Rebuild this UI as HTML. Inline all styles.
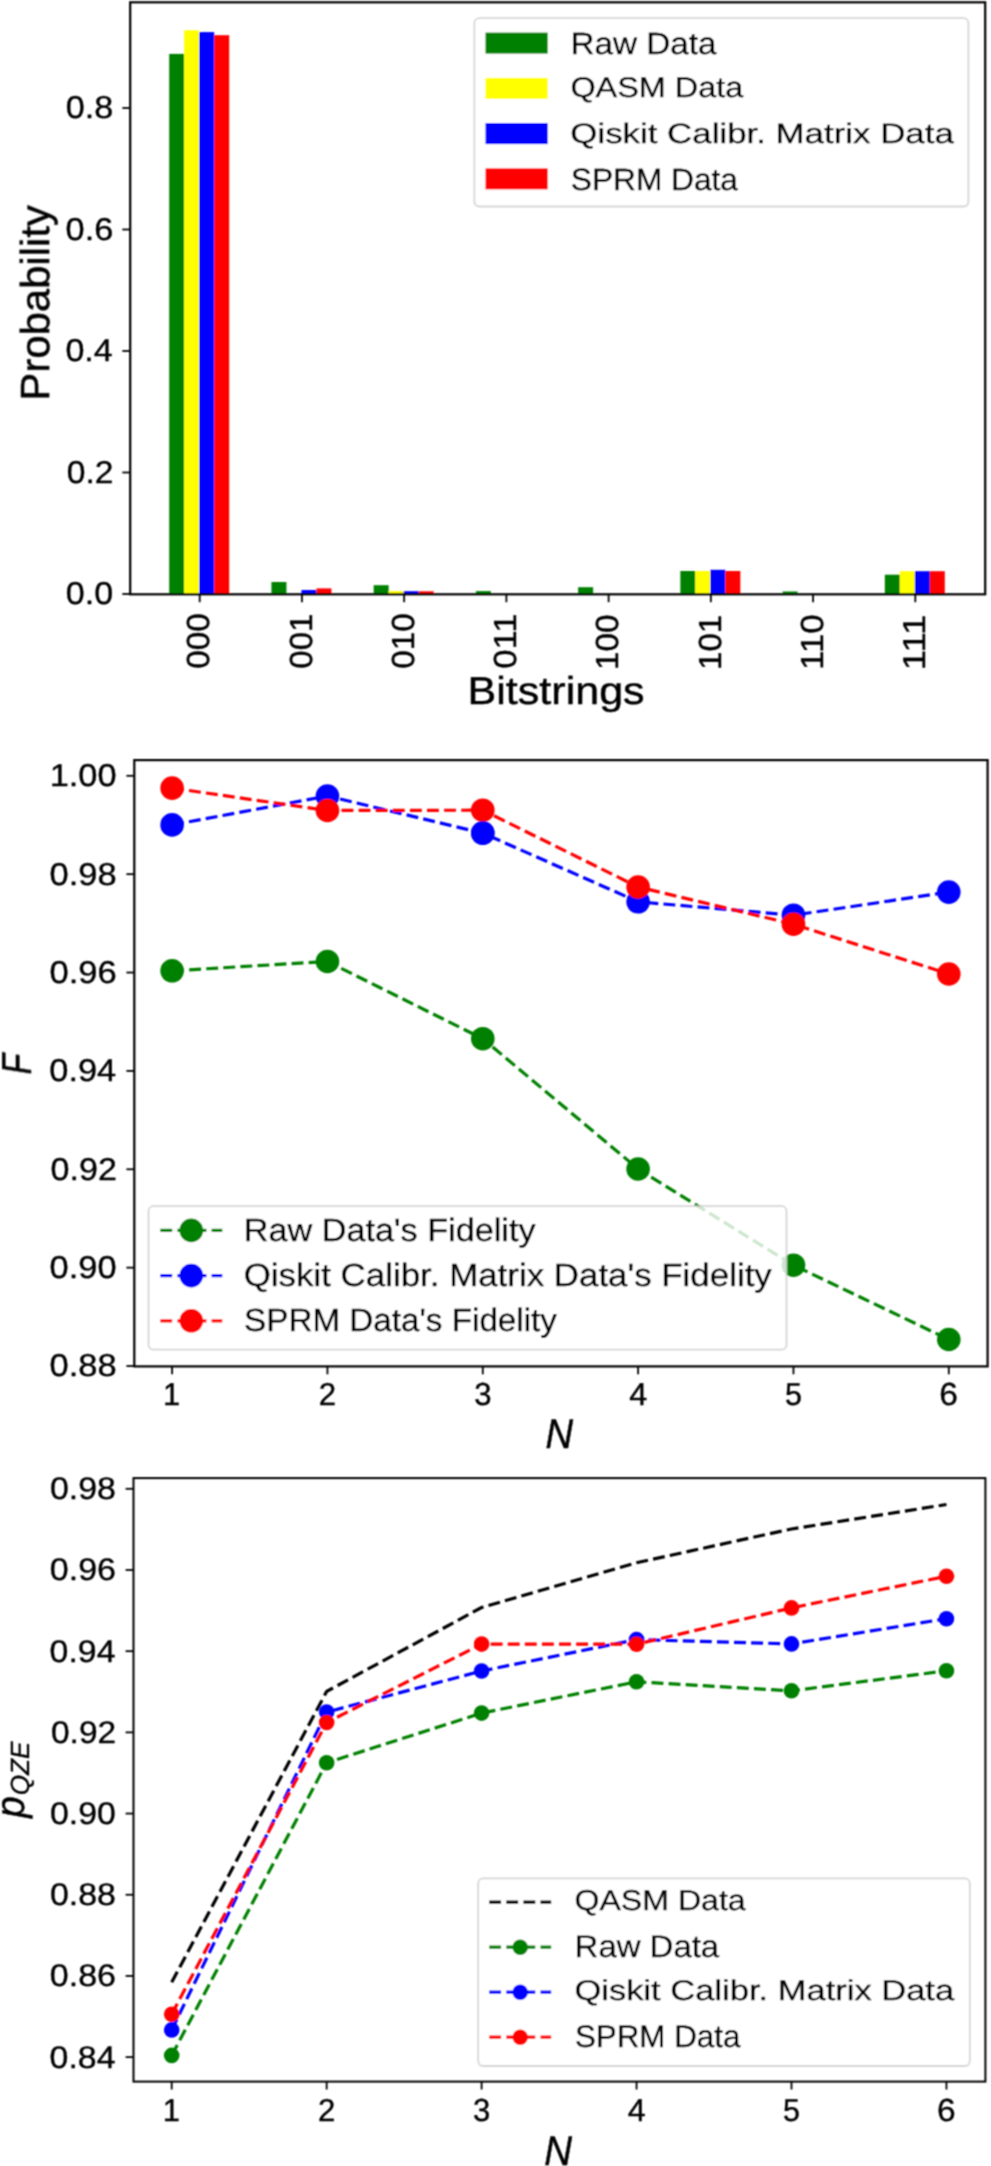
<!DOCTYPE html>
<html><head><meta charset="utf-8"><title>Charts</title>
<style>html,body{margin:0;padding:0;background:#fff;}svg{display:block;}text{font-family:"Liberation Sans",sans-serif;text-rendering:geometricPrecision;stroke:#000;stroke-width:0.35px;}</style>
</head><body>
<svg width="991" height="2166" viewBox="0 0 991 2166">
<defs><filter id="soft" x="0" y="0" width="991" height="2166" filterUnits="userSpaceOnUse"><feConvolveMatrix order="3" kernelMatrix="1 2 1 2 4 2 1 2 1" divisor="16" edgeMode="duplicate"/></filter></defs>
<rect width="991" height="2166" fill="#fff"/>
<g filter="url(#soft)">
<rect x="169.2" y="53.9" width="15" height="540.1" fill="#008000"/>
<rect x="271.43" y="582" width="15" height="12" fill="#008000"/>
<rect x="373.66" y="585.2" width="15" height="8.8" fill="#008000"/>
<rect x="475.89" y="591.1" width="15" height="2.9" fill="#008000"/>
<rect x="578.12" y="587.2" width="15" height="6.8" fill="#008000"/>
<rect x="680.35" y="571" width="15" height="23" fill="#008000"/>
<rect x="782.58" y="591.5" width="15" height="2.5" fill="#008000"/>
<rect x="884.81" y="574.7" width="15" height="19.3" fill="#008000"/>
<rect x="184.2" y="30.3" width="15" height="563.7" fill="#ffff00"/>
<rect x="388.66" y="591.1" width="15" height="2.9" fill="#ffff00"/>
<rect x="695.35" y="571" width="15" height="23" fill="#ffff00"/>
<rect x="899.81" y="571.2" width="15" height="22.8" fill="#ffff00"/>
<rect x="199.2" y="32.1" width="15" height="561.9" fill="#0000ff"/>
<rect x="301.43" y="590" width="15" height="4" fill="#0000ff"/>
<rect x="403.66" y="591.2" width="15" height="2.8" fill="#0000ff"/>
<rect x="710.35" y="569.8" width="15" height="24.2" fill="#0000ff"/>
<rect x="914.81" y="571.2" width="15" height="22.8" fill="#0000ff"/>
<rect x="214.2" y="35.2" width="15" height="558.8" fill="#ff0000"/>
<rect x="316.43" y="588.4" width="15" height="5.6" fill="#ff0000"/>
<rect x="418.66" y="591.3" width="15" height="2.7" fill="#ff0000"/>
<rect x="725.35" y="571" width="15" height="23" fill="#ff0000"/>
<rect x="929.81" y="571.2" width="15" height="22.8" fill="#ff0000"/>
<rect x="130.2" y="2.3" width="855" height="592" fill="none" stroke="#000" stroke-width="2.2"/>
<line x1="122.3" y1="594" x2="130.2" y2="594" stroke="#000" stroke-width="1.8"/>
<text transform="matrix(1.0662 0 0 0.9838 65.7064 604.4092)" font-size="32" style="" fill="#000">0.0</text>
<line x1="122.3" y1="472.5" x2="130.2" y2="472.5" stroke="#000" stroke-width="1.8"/>
<text transform="matrix(1.0504 0 0 0.9838 66.7623 482.9092)" font-size="32" style="" fill="#000">0.2</text>
<line x1="122.3" y1="351" x2="130.2" y2="351" stroke="#000" stroke-width="1.8"/>
<text transform="matrix(1.0657 0 0 0.9838 65.3904 361.4092)" font-size="32" style="" fill="#000">0.4</text>
<line x1="122.3" y1="229.5" x2="130.2" y2="229.5" stroke="#000" stroke-width="1.8"/>
<text transform="matrix(1.0727 0 0 0.9838 65.5928 239.9092)" font-size="32" style="" fill="#000">0.6</text>
<line x1="122.3" y1="108" x2="130.2" y2="108" stroke="#000" stroke-width="1.8"/>
<text transform="matrix(1.0683 0 0 0.9838 65.7662 118.4092)" font-size="32" style="" fill="#000">0.8</text>
<line x1="199.7" y1="594.3" x2="199.7" y2="602.2" stroke="#000" stroke-width="1.8"/>
<text transform="matrix(0 -1.0402 0.9947 0 209.4104 668.7003)" font-size="32" style="" fill="#000">000</text>
<line x1="301.93" y1="594.3" x2="301.93" y2="602.2" stroke="#000" stroke-width="1.8"/>
<text transform="matrix(0 -1.0313 0.9947 0 311.6404 668.6891)" font-size="32" style="" fill="#000">001</text>
<line x1="404.16" y1="594.3" x2="404.16" y2="602.2" stroke="#000" stroke-width="1.8"/>
<text transform="matrix(0 -1.0402 0.9947 0 413.8704 668.7003)" font-size="32" style="" fill="#000">010</text>
<line x1="506.39" y1="594.3" x2="506.39" y2="602.2" stroke="#000" stroke-width="1.8"/>
<text transform="matrix(0 -1.0818 0.9947 0 516.1004 668.7522)" font-size="32" style="" fill="#000">011</text>
<line x1="608.62" y1="594.3" x2="608.62" y2="602.2" stroke="#000" stroke-width="1.8"/>
<text transform="matrix(0 -1.0388 0.9947 0 618.3304 669.9347)" font-size="32" style="" fill="#000">100</text>
<line x1="710.85" y1="594.3" x2="710.85" y2="602.2" stroke="#000" stroke-width="1.8"/>
<text transform="matrix(0 -1.0297 0.9947 0 720.5604 669.9124)" font-size="32" style="" fill="#000">101</text>
<line x1="813.08" y1="594.3" x2="813.08" y2="602.2" stroke="#000" stroke-width="1.8"/>
<text transform="matrix(0 -1.0906 0.9947 0 822.7904 670.061)" font-size="32" style="" fill="#000">110</text>
<line x1="915.31" y1="594.3" x2="915.31" y2="602.2" stroke="#000" stroke-width="1.8"/>
<text transform="matrix(0 -1.1385 0.9869 0 924.91 670.1779)" font-size="32" style="" fill="#000">111</text>
<text transform="matrix(0 -1.3079 1.2772 0 49.4191 400.5333)" font-size="32" style="" fill="#000">Probability</text>
<text transform="matrix(1.3457 0 0 1.2135 467.5675 704.0421)" font-size="32" style="" fill="#000">Bitstrings</text>
<rect x="474.4" y="18.1" width="494" height="188.4" rx="5" ry="5" fill="#fff" fill-opacity="0.8" stroke="#ccc" stroke-opacity="0.8" stroke-width="1.8"/>
<rect x="485.5" y="32.6" width="62.2" height="21" fill="#008000"/>
<text transform="matrix(1.0387 0 0 0.9596 570.5153 53.8076)" font-size="32" style="" fill="#000">Raw Data</text>
<rect x="485.5" y="77.85" width="62.2" height="21" fill="#ffff00"/>
<text transform="matrix(1.0127 0 0 0.8846 570.4047 97.319)" font-size="32" style="" fill="#000">QASM Data</text>
<rect x="485.5" y="123.1" width="62.2" height="21" fill="#0000ff"/>
<text transform="matrix(1.0892 0 0 0.8764 570.2888 142.6183)" font-size="32" style="" fill="#000">Qiskit Calibr. Matrix Data</text>
<rect x="485.5" y="168.35" width="62.2" height="21" fill="#ff0000"/>
<text transform="matrix(0.9892 0 0 0.9624 570.8048 189.5568)" font-size="32" style="" fill="#000">SPRM Data</text>
<polyline points="172.1,970.8 327.44,961.5 482.78,1038.7 638.12,1169 793.46,1265.2 948.8,1339.5" fill="none" stroke="#008000" stroke-width="3.2" stroke-dasharray="11.9 5.2" stroke-linejoin="round"/>
<circle cx="172.1" cy="970.8" r="11.8" fill="#008000"/>
<circle cx="327.44" cy="961.5" r="11.8" fill="#008000"/>
<circle cx="482.78" cy="1038.7" r="11.8" fill="#008000"/>
<circle cx="638.12" cy="1169" r="11.8" fill="#008000"/>
<circle cx="793.46" cy="1265.2" r="11.8" fill="#008000"/>
<circle cx="948.8" cy="1339.5" r="11.8" fill="#008000"/>
<polyline points="172.1,824.9 327.44,796 482.78,833.1 638.12,901.8 793.46,915.2 948.8,892.1" fill="none" stroke="#0000ff" stroke-width="3.2" stroke-dasharray="11.9 5.2" stroke-linejoin="round"/>
<circle cx="172.1" cy="824.9" r="11.8" fill="#0000ff"/>
<circle cx="327.44" cy="796" r="11.8" fill="#0000ff"/>
<circle cx="482.78" cy="833.1" r="11.8" fill="#0000ff"/>
<circle cx="638.12" cy="901.8" r="11.8" fill="#0000ff"/>
<circle cx="793.46" cy="915.2" r="11.8" fill="#0000ff"/>
<circle cx="948.8" cy="892.1" r="11.8" fill="#0000ff"/>
<polyline points="172.1,788.1 327.44,810.5 482.78,810.2 638.12,887 793.46,924.2 948.8,974" fill="none" stroke="#ff0000" stroke-width="3.2" stroke-dasharray="11.9 5.2" stroke-linejoin="round"/>
<circle cx="172.1" cy="788.1" r="11.8" fill="#ff0000"/>
<circle cx="327.44" cy="810.5" r="11.8" fill="#ff0000"/>
<circle cx="482.78" cy="810.2" r="11.8" fill="#ff0000"/>
<circle cx="638.12" cy="887" r="11.8" fill="#ff0000"/>
<circle cx="793.46" cy="924.2" r="11.8" fill="#ff0000"/>
<circle cx="948.8" cy="974" r="11.8" fill="#ff0000"/>
<circle cx="482.78" cy="833.1" r="11.8" fill="#0000ff"/>
<rect x="134.3" y="760.1" width="853.3" height="606.3" fill="none" stroke="#000" stroke-width="2.2"/>
<line x1="126.4" y1="1366.02" x2="134.3" y2="1366.02" stroke="#000" stroke-width="1.8"/>
<text transform="matrix(1.077 0 0 0.9838 49.623 1376.4292)" font-size="32" style="" fill="#000">0.88</text>
<line x1="126.4" y1="1267.65" x2="134.3" y2="1267.65" stroke="#000" stroke-width="1.8"/>
<text transform="matrix(1.0755 0 0 0.9838 49.5625 1278.0592)" font-size="32" style="" fill="#000">0.90</text>
<line x1="126.4" y1="1169.28" x2="134.3" y2="1169.28" stroke="#000" stroke-width="1.8"/>
<text transform="matrix(1.0645 0 0 0.9838 50.6124 1179.6892)" font-size="32" style="" fill="#000">0.92</text>
<line x1="126.4" y1="1070.91" x2="134.3" y2="1070.91" stroke="#000" stroke-width="1.8"/>
<text transform="matrix(1.0751 0 0 0.9838 49.2464 1081.3192)" font-size="32" style="" fill="#000">0.94</text>
<line x1="126.4" y1="972.54" x2="134.3" y2="972.54" stroke="#000" stroke-width="1.8"/>
<text transform="matrix(1.0801 0 0 0.9838 49.4513 982.9492)" font-size="32" style="" fill="#000">0.96</text>
<line x1="126.4" y1="874.17" x2="134.3" y2="874.17" stroke="#000" stroke-width="1.8"/>
<text transform="matrix(1.077 0 0 0.9838 49.623 884.5792)" font-size="32" style="" fill="#000">0.98</text>
<line x1="126.4" y1="775.8" x2="134.3" y2="775.8" stroke="#000" stroke-width="1.8"/>
<text transform="matrix(1.0743 0 0 0.9838 49.6334 786.2092)" font-size="32" style="" fill="#000">1.00</text>
<line x1="172.1" y1="1366.4" x2="172.1" y2="1374.3" stroke="#000" stroke-width="1.8"/>
<text transform="matrix(0.966 0 0 0.9862 163.0801 1404.5)" font-size="32" style="" fill="#000">1</text>
<line x1="327.44" y1="1366.4" x2="327.44" y2="1374.3" stroke="#000" stroke-width="1.8"/>
<text transform="matrix(0.9745 0 0 0.9891 318.7669 1404.5)" font-size="32" style="" fill="#000">2</text>
<line x1="482.78" y1="1366.4" x2="482.78" y2="1374.3" stroke="#000" stroke-width="1.8"/>
<text transform="matrix(0.9711 0 0 0.994 474.2297 1404.6103)" font-size="32" style="" fill="#000">3</text>
<line x1="638.12" y1="1366.4" x2="638.12" y2="1374.3" stroke="#000" stroke-width="1.8"/>
<text transform="matrix(1.0114 0 0 0.9862 629.2219 1404.5)" font-size="32" style="" fill="#000">4</text>
<line x1="793.46" y1="1366.4" x2="793.46" y2="1374.3" stroke="#000" stroke-width="1.8"/>
<text transform="matrix(0.9543 0 0 0.9912 784.9976 1404.6112)" font-size="32" style="" fill="#000">5</text>
<line x1="948.8" y1="1366.4" x2="948.8" y2="1374.3" stroke="#000" stroke-width="1.8"/>
<text transform="matrix(1.0468 0 0 0.994 939.3712 1404.6103)" font-size="32" style="" fill="#000">6</text>
<text transform="matrix(0 -1.0568 1.3082 0 31.2 1074.341)" font-size="32" style="font-style:italic;" fill="#000">F</text>
<text transform="matrix(1.1924 0 0 1.29 545.4255 1448.4)" font-size="32" style="font-style:italic;" fill="#000">N</text>
<rect x="148.5" y="1206.2" width="638" height="143.5" rx="5" ry="5" fill="#fff" fill-opacity="0.8" stroke="#ccc" stroke-opacity="0.8" stroke-width="1.8"/>
<line x1="160.3" y1="1230.4" x2="222.3" y2="1230.4" stroke="#008000" stroke-width="3.2" stroke-dasharray="11.9 5.2"/>
<circle cx="191.3" cy="1230.4" r="11.8" fill="#008000"/>
<text transform="matrix(1.0693 0 0 1.0009 243.8203 1240.9698)" font-size="32" style="" fill="#000">Raw Data&#39;s Fidelity</text>
<line x1="160.3" y1="1275.6" x2="222.3" y2="1275.6" stroke="#0000ff" stroke-width="3.2" stroke-dasharray="11.9 5.2"/>
<circle cx="191.3" cy="1275.6" r="11.8" fill="#0000ff"/>
<text transform="matrix(1.0901 0 0 1.0009 243.679 1286.1698)" font-size="32" style="" fill="#000">Qiskit Calibr. Matrix Data&#39;s Fidelity</text>
<line x1="160.3" y1="1320.8" x2="222.3" y2="1320.8" stroke="#ff0000" stroke-width="3.2" stroke-dasharray="11.9 5.2"/>
<circle cx="191.3" cy="1320.8" r="11.8" fill="#ff0000"/>
<text transform="matrix(1.0383 0 0 1.0009 244.1235 1331.3698)" font-size="32" style="" fill="#000">SPRM Data&#39;s Fidelity</text>
<polyline points="171.7,1982.3 326.65,1691.4 481.6,1607.5 636.55,1562.7 791.5,1529 946.45,1504.5" fill="none" stroke="#000000" stroke-width="3.2" stroke-dasharray="11.9 5.2" stroke-linejoin="round"/>
<polyline points="171.7,2055.4 326.65,1762.8 481.6,1713.1 636.55,1681.8 791.5,1690.8 946.45,1670.8" fill="none" stroke="#008000" stroke-width="3.2" stroke-dasharray="11.9 5.2" stroke-linejoin="round"/>
<circle cx="171.7" cy="2055.4" r="7.8" fill="#008000"/>
<circle cx="326.65" cy="1762.8" r="7.8" fill="#008000"/>
<circle cx="481.6" cy="1713.1" r="7.8" fill="#008000"/>
<circle cx="636.55" cy="1681.8" r="7.8" fill="#008000"/>
<circle cx="791.5" cy="1690.8" r="7.8" fill="#008000"/>
<circle cx="946.45" cy="1670.8" r="7.8" fill="#008000"/>
<polyline points="171.7,2029.9 326.65,1712.1 481.6,1671 636.55,1639.6 791.5,1643.9 946.45,1618.7" fill="none" stroke="#0000ff" stroke-width="3.2" stroke-dasharray="11.9 5.2" stroke-linejoin="round"/>
<circle cx="171.7" cy="2029.9" r="7.8" fill="#0000ff"/>
<circle cx="326.65" cy="1712.1" r="7.8" fill="#0000ff"/>
<circle cx="481.6" cy="1671" r="7.8" fill="#0000ff"/>
<circle cx="636.55" cy="1639.6" r="7.8" fill="#0000ff"/>
<circle cx="791.5" cy="1643.9" r="7.8" fill="#0000ff"/>
<circle cx="946.45" cy="1618.7" r="7.8" fill="#0000ff"/>
<polyline points="171.7,2014.2 326.65,1722.5 481.6,1644.1 636.55,1644.2 791.5,1607.9 946.45,1576.3" fill="none" stroke="#ff0000" stroke-width="3.2" stroke-dasharray="11.9 5.2" stroke-linejoin="round"/>
<circle cx="171.7" cy="2014.2" r="7.8" fill="#ff0000"/>
<circle cx="326.65" cy="1722.5" r="7.8" fill="#ff0000"/>
<circle cx="481.6" cy="1644.1" r="7.8" fill="#ff0000"/>
<circle cx="636.55" cy="1644.2" r="7.8" fill="#ff0000"/>
<circle cx="791.5" cy="1607.9" r="7.8" fill="#ff0000"/>
<circle cx="946.45" cy="1576.3" r="7.8" fill="#ff0000"/>
<rect x="133.5" y="1478.1" width="851.9" height="603.5" fill="none" stroke="#000" stroke-width="2.0"/>
<line x1="125.6" y1="2057.13" x2="133.5" y2="2057.13" stroke="#000" stroke-width="1.8"/>
<text transform="matrix(1.0576 0 0 0.9779 49.6205 2067.6385)" font-size="32" style="" fill="#000">0.84</text>
<line x1="125.6" y1="1975.94" x2="133.5" y2="1975.94" stroke="#000" stroke-width="1.8"/>
<text transform="matrix(1.0625 0 0 0.9779 49.8221 1986.4485)" font-size="32" style="" fill="#000">0.86</text>
<line x1="125.6" y1="1894.75" x2="133.5" y2="1894.75" stroke="#000" stroke-width="1.8"/>
<text transform="matrix(1.0594 0 0 0.9779 49.991 1905.2585)" font-size="32" style="" fill="#000">0.88</text>
<line x1="125.6" y1="1813.56" x2="133.5" y2="1813.56" stroke="#000" stroke-width="1.8"/>
<text transform="matrix(1.058 0 0 0.9779 49.9315 1824.0685)" font-size="32" style="" fill="#000">0.90</text>
<line x1="125.6" y1="1732.37" x2="133.5" y2="1732.37" stroke="#000" stroke-width="1.8"/>
<text transform="matrix(1.0472 0 0 0.9779 50.9643 1742.8785)" font-size="32" style="" fill="#000">0.92</text>
<line x1="125.6" y1="1651.18" x2="133.5" y2="1651.18" stroke="#000" stroke-width="1.8"/>
<text transform="matrix(1.0576 0 0 0.9779 49.6205 1661.6885)" font-size="32" style="" fill="#000">0.94</text>
<line x1="125.6" y1="1569.99" x2="133.5" y2="1569.99" stroke="#000" stroke-width="1.8"/>
<text transform="matrix(1.0625 0 0 0.9779 49.8221 1580.4985)" font-size="32" style="" fill="#000">0.96</text>
<line x1="125.6" y1="1488.8" x2="133.5" y2="1488.8" stroke="#000" stroke-width="1.8"/>
<text transform="matrix(1.0594 0 0 0.9779 49.991 1499.3085)" font-size="32" style="" fill="#000">0.98</text>
<line x1="171.7" y1="2081.6" x2="171.7" y2="2089.5" stroke="#000" stroke-width="1.8"/>
<text transform="matrix(0.966 0 0 0.9862 162.6801 2120.6)" font-size="32" style="" fill="#000">1</text>
<line x1="326.65" y1="2081.6" x2="326.65" y2="2089.5" stroke="#000" stroke-width="1.8"/>
<text transform="matrix(0.9745 0 0 0.9891 317.9769 2120.6)" font-size="32" style="" fill="#000">2</text>
<line x1="481.6" y1="2081.6" x2="481.6" y2="2089.5" stroke="#000" stroke-width="1.8"/>
<text transform="matrix(0.9711 0 0 0.994 473.0497 2120.7103)" font-size="32" style="" fill="#000">3</text>
<line x1="636.55" y1="2081.6" x2="636.55" y2="2089.5" stroke="#000" stroke-width="1.8"/>
<text transform="matrix(1.0114 0 0 0.9862 627.6519 2120.6)" font-size="32" style="" fill="#000">4</text>
<line x1="791.5" y1="2081.6" x2="791.5" y2="2089.5" stroke="#000" stroke-width="1.8"/>
<text transform="matrix(0.9543 0 0 0.9912 783.0376 2120.7112)" font-size="32" style="" fill="#000">5</text>
<line x1="946.45" y1="2081.6" x2="946.45" y2="2089.5" stroke="#000" stroke-width="1.8"/>
<text transform="matrix(1.0468 0 0 0.994 937.0212 2120.7103)" font-size="32" style="" fill="#000">6</text>
<text transform="matrix(0 -1.2073 1.2741 0 24.04 1817.8402)" font-size="32" style="font-style:italic;" fill="#000">p</text>
<text transform="matrix(0 -0.8171 0.8207 0 28.9388 1795.291)" font-size="32" style="font-style:italic;" fill="#000">QZE</text>
<text transform="matrix(1.2014 0 0 1.2991 544.2166 2164.5)" font-size="32" style="font-style:italic;" fill="#000">N</text>
<rect x="478.2" y="1878.3" width="491.6" height="187.7" rx="5" ry="5" fill="#fff" fill-opacity="0.8" stroke="#ccc" stroke-opacity="0.8" stroke-width="1.8"/>
<line x1="489.2" y1="1902.2" x2="551.2" y2="1902.2" stroke="#000000" stroke-width="3.2" stroke-dasharray="11.9 5.2"/>
<text transform="matrix(1.0029 0 0 0.8949 574.5027 1910.15)" font-size="32" style="" fill="#000">QASM Data</text>
<line x1="489.2" y1="1947.2" x2="551.2" y2="1947.2" stroke="#008000" stroke-width="3.2" stroke-dasharray="11.9 5.2"/>
<circle cx="520.2" cy="1947.2" r="7.8" fill="#008000"/>
<text transform="matrix(1.0287 0 0 0.9708 574.6122 1956.9089)" font-size="32" style="" fill="#000">Raw Data</text>
<line x1="489.2" y1="1992.2" x2="551.2" y2="1992.2" stroke="#0000ff" stroke-width="3.2" stroke-dasharray="11.9 5.2"/>
<circle cx="520.2" cy="1992.2" r="7.8" fill="#0000ff"/>
<text transform="matrix(1.0786 0 0 0.8866 574.3879 2000.1999)" font-size="32" style="" fill="#000">Qiskit Calibr. Matrix Data</text>
<line x1="489.2" y1="2037.2" x2="551.2" y2="2037.2" stroke="#ff0000" stroke-width="3.2" stroke-dasharray="11.9 5.2"/>
<circle cx="520.2" cy="2037.2" r="7.8" fill="#ff0000"/>
<text transform="matrix(0.9796 0 0 0.9735 574.8989 2046.908)" font-size="32" style="" fill="#000">SPRM Data</text>
</g>
</svg>
</body></html>
